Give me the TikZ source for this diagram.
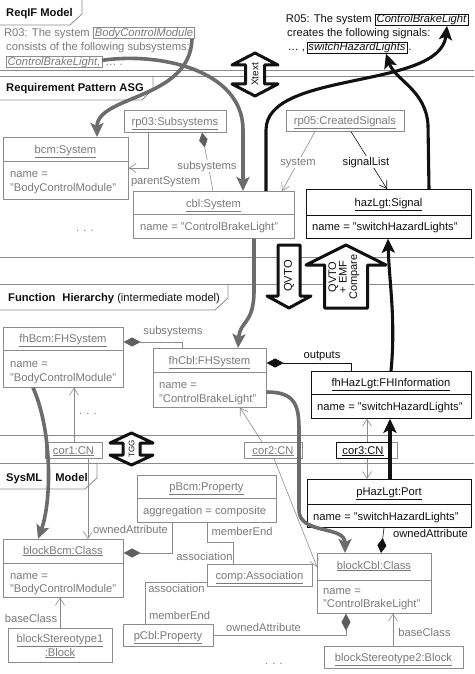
\documentclass[tikz,border=0pt]{standalone}
\usepackage{fontspec}
\setmainfont{Liberation Sans}
\usetikzlibrary{arrows.meta}
\definecolor{gtext}{HTML}{7A7A7A}
\definecolor{gline}{HTML}{8C8C8C}
\definecolor{gthick}{HTML}{6C6C6C}
\definecolor{gdia}{HTML}{5E5E5E}
\definecolor{frm}{HTML}{8A8A8A}
\definecolor{ink}{HTML}{111111}
\newcommand\obox[6]{\node[#2, minimum width={(#5)-(#3)}, minimum height={(#6)-(#4)}] (#1) at (#3,#4) {};}
\newcommand\odiv[3]{\draw[#2] (#1.west |- 0,#3) -- (#1.east |- 0,#3);}
\begin{document}
\begin{tikzpicture}[x=1pt,y=-1pt,
  every node/.style={inner sep=0pt, font=\fontsize{11.2}{14}\selectfont},
  gb/.style={draw=gline, line width=0.6pt, fill=white, anchor=north west},
  bb/.style={draw=ink, line width=0.7pt, fill=white, anchor=north west},
  gt/.style={text=gtext},
  bt/.style={text=ink},
  lbl/.style={fill=white, inner sep=0.8pt, anchor=base},
  gthin/.style={draw=gline, line width=0.6pt},
  bthin/.style={draw=ink, line width=0.6pt},
  nav/.style={-{Straight Barb[length=7pt,width=9pt]}},
  gcmp/.style={{Diamond[length=17pt,width=9pt,color=gdia,fill=gdia]}-},
  gcmps/.style={{Diamond[length=15pt,width=8.5pt,color=gdia,fill=gdia]}-},
  bcmp/.style={{Diamond[length=14pt,width=8pt,fill=ink]}-},
  thickg/.style={draw=gthick, line width=3.6pt, -{Stealth[length=14pt,width=13pt,inset=3pt]}},
  thickb/.style={draw=ink, line width=3.1pt, -{Stealth[length=14pt,width=13pt,inset=3pt]}},
  blk/.style={draw=ink, line width=3pt, fill=white, line join=round},
  frame/.style={draw=frm, line width=0.8pt},
  wbox/.style={line width=0.6pt, inner xsep=1.5pt, inner ysep=0.5pt, text height=8pt, text depth=2pt, font=\fontsize{11.2}{14}\selectfont\itshape}
]
\useasboundingbox (0,0) rectangle (474,674);
% frames
\foreach \yy in {70,76,257,284,435,463} \draw[frame] (0,\yy) -- (474,\yy);
\draw[frame] (0,25) -- (70,25) -- (82,14) -- (82,0);
\draw[frame] (0,100) -- (142,100) -- (153,89) -- (153,76);
\draw[frame] (0,310) -- (215,310) -- (228,298) -- (228,284);
\draw[frame] (0,489) -- (85,489) -- (97,478) -- (97,463);
\node[bt, anchor=base west] (tabR) at (6,17) {\textbf{ReqIF Model}};
\node[bt, anchor=base west] (tabA) at (6,92) {\textbf{Requirement Pattern ASG}};
\node[bt, anchor=base west] (tabF) at (8,301) {\textbf{Function}\hspace{7pt}\textbf{Hierarchy} (intermediate model)};
\node[bt, anchor=base west] (tabS) at (6,481) {\textbf{SysML}\hspace{13pt}\textbf{Model}};
% ReqIF texts
\node[wbox, draw=gline, text=gtext] (wBCM) at (144,33.3) {BodyControlModule};
\node[gt, anchor=base east] (r03a) at ([xshift=-3pt]wBCM.base west) {R03: The system};
\node[gt, anchor=base west] (r03b) at (6,50.8) {consists of the following subsystems:};
\node[wbox, draw=gline, text=gtext] (wCBL) at (54,62.3) {ControlBrakeLight,};
\node[gt, anchor=base west] (r03c) at ([xshift=3pt]wCBL.base east) {… .};
\node[wbox, draw=ink, text=ink] (wCBL2) at (421.5,20) {ControlBrakeLight};
\node[bt, anchor=base east] (r05a) at ([xshift=-3pt]wCBL2.base west) {R05: The system};
\node[bt, anchor=base west] (r05b) at (287,37) {creates the following signals:};
\node[wbox, draw=ink, text=ink] (wSHL) at (357,48) {switchHazardLights};
\node[bt, anchor=base east] (r05c) at ([xshift=-1.5pt]wSHL.base west) {… ,};
\node[bt, anchor=base west] (r05d) at ([xshift=1pt]wSHL.base east) {.};
% ASG boxes
\obox{rp03}{gb}{124}{110}{226}{132}
\node[gt, anchor=base] (trp03) at (175,125) {\underline{rp03:Subsystems}};
\obox{rp05}{gb}{286}{110}{404}{131}
\node[gt, anchor=base] (trp05) at (345,124.5) {\underline{rp05:CreatedSignals}};
\obox{bcm}{gb}{3}{137}{128}{199}
\odiv{bcm}{gthin}{161}
\node[gt, anchor=base] (tbcm) at (65.5,153) {\underline{bcm:System}};
\node[gt, anchor=base west] (abcm1) at (10,177) {name =};
\node[gt, anchor=base west] (abcm2) at (10,191) {"BodyControlModule"};
\obox{cbl}{gb}{133}{191}{294}{238}
\odiv{cbl}{gthin}{214}
\node[gt, anchor=base] (tcbl) at (213.5,207) {\underline{cbl:System}};
\node[gt, anchor=base west] (acbl) at (140,230) {name = "ControlBrakeLight"};
\obox{hazLgt}{bb}{306}{189}{471}{238}
\odiv{hazLgt}{bthin}{215}
\node[bt, anchor=base] (thaz) at (388.5,206.5) {\underline{hazLgt:Signal}};
\node[bt, anchor=base west] (ahaz) at (312,230.5) {name = "switchHazardLights"};
\node[gt, anchor=base] (dots1) at (85,231) {. . .};
% ASG connectors
\draw[gthin, nav] (rp03.south -| 148,0) |- (bcm.east |- 0,168);
\node[gt, lbl, anchor=base west] (lps) at (130,184) {parentSystem};
\draw[gthin, gcmps] (rp03.south -| 202,0) -- (cbl.north -| 213,0);
\node[gt, lbl] (lss1) at (207,169) {subsystems};
\draw[gthin, nav] (rp05.south -| 315,0) -- (cbl.north -| 282,0);
\node[gt, lbl] (lsys) at (298,165) {system};
\draw[bthin, bcmp, -{Straight Barb[length=7pt,width=9pt]}] (rp05.south -| 351,0) -- (hazLgt.north -| 387,0);
\node[bt, lbl] (lsig) at (366,165) {signalList};
% FH boxes
\obox{fhBcm}{gb}{3}{327}{123}{387}
\odiv{fhBcm}{gthin}{350}
\node[gt, anchor=base] (tfhb) at (63,342.5) {\underline{fhBcm:FHSystem}};
\node[gt, anchor=base west] (afhb1) at (10,367) {name =};
\node[gt, anchor=base west] (afhb2) at (10,381) {"BodyControlModule"};
\obox{fhCbl}{gb}{153}{348}{266}{407}
\odiv{fhCbl}{gthin}{372}
\node[gt, anchor=base] (tfhc) at (209.5,364) {\underline{fhCbl:FHSystem}};
\node[gt, anchor=base west] (afhc1) at (159,388) {name =};
\node[gt, anchor=base west] (afhc2) at (159,402) {"ControlBrakeLight"};
\obox{fhHaz}{bb}{311}{371}{471}{418}
\odiv{fhHaz}{bthin}{394}
\node[bt, anchor=base] (tfhh) at (391,386.5) {\underline{fhHazLgt:FHInformation}};
\node[bt, anchor=base west] (afhh) at (317,410) {name = "switchHazardLights"};
\node[gt, anchor=base] (dots2) at (88,414) {. . .};
\draw[gthin, gcmp] (fhBcm.east |- 0,342) -| (fhCbl.north -| 182,0);
\node[gt, lbl] (lss2) at (173,334) {subsystems};
\draw[bthin, {Diamond[length=17pt,width=9pt,fill=ink]}-] (fhCbl.east |- 0,363) -| (fhHaz.north -| 351,0);
\node[bt, lbl] (lout) at (322,358) {outputs};
% correspondence nodes
\obox{cor1}{gb}{45}{442}{102}{458}
\node[gt, anchor=base] (tcor1) at (73.5,454) {\underline{cor1:CN}};
\obox{cor2}{gb}{244}{442}{302}{458}
\node[gt, anchor=base] (tcor2) at (273,454) {\underline{cor2:CN}};
\obox{cor3g}{gb}{336}{442}{397}{458}
\obox{cor3}{bb}{336}{442}{388}{458}
\node[bt, anchor=base] (tcor3) at (363,454) {\underline{cor3:CN}};
\draw[gthin, nav] (cor1.north -| 74,0) -- (fhBcm.south -| 74,0);
\draw[gthin, nav] (cor2.north -| 262,0) -- (fhCbl.south -| 240,0);
\draw[gthin, nav] (cor3.north -| 367,0) -- (fhHaz.south -| 367,0);
% SysML boxes
\obox{pBcm}{gb}{137}{475}{276}{522}
\odiv{pBcm}{gthin}{498}
\node[gt, anchor=base] (tpb) at (206.5,490) {\underline{pBcm:Property}};
\node[gt, anchor=base west] (apb) at (143,514) {aggregation = composite};
\obox{blockBcm}{gb}{3}{539}{123}{597}
\odiv{blockBcm}{gthin}{563}
\node[gt, anchor=base] (tbb) at (63,554) {\underline{blockBcm:Class}};
\node[gt, anchor=base west] (abb1) at (10,579) {name =};
\node[gt, anchor=base west] (abb2) at (10,592) {"BodyControlModule"};
\obox{compA}{gb}{207}{564}{312}{586}
\node[gt, anchor=base] (tca) at (259.5,579) {\underline{comp:Association}};
\obox{pCbl}{gb}{123}{624}{213}{646}
\node[gt, anchor=base] (tpc) at (168,639) {\underline{pCbl:Property}};
\obox{bst1}{gb}{8}{628}{112}{662}
\node[gt, anchor=base] (tbs1a) at (60,642) {\underline{blockStereotype1}};
\node[gt, anchor=base] (tbs1b) at (60,656) {\underline{:Block}};
\obox{blockCbl}{gb}{317}{553}{431}{613}
\odiv{blockCbl}{gthin}{580}
\node[gt, anchor=base] (tbc) at (374,569) {\underline{blockCbl:Class}};
\node[gt, anchor=base west] (abc1) at (323,594) {name =};
\node[gt, anchor=base west] (abc2) at (323,607) {"ControlBrakeLight"};
\obox{pHaz}{bb}{307}{479}{471}{527}
\odiv{pHaz}{bthin}{504}
\node[bt, anchor=base] (tph) at (389,495.5) {\underline{pHazLgt:Port}};
\node[bt, anchor=base west] (aph) at (313,520) {name = "switchHazardLights"};
\obox{bst2}{gb}{324}{646}{463}{668}
\node[gt, anchor=base] (tbs2) at (393.5,661) {\underline{blockStereotype2:Block}};
\node[gt, anchor=base] (dots3) at (274,664) {. . .};
% SysML connectors
\draw[gthin, nav] (cor1.south -| 88,0) -- (blockBcm.north -| 88,0);
\draw[gthin, nav] (cor2.south -| 274,0) -- (blockCbl.west |- 0,567);
\draw[gthin, nav] (cor3.south -| 367,0) -- (pHaz.north -| 367,0);
\draw[gthin, gcmp] (blockBcm.east |- 0,553) -| (pBcm.south -| 172,0);
\node[gt, lbl] (loa1) at (130.5,533) {ownedAttribute};
\draw[gthin] (pBcm.south -| 207,0) -- ++(0,20) -| (compA.north -| 233,0);
\node[gt, lbl] (lme1) at (242,535) {memberEnd};
\node[gt, lbl] (las1) at (204.5,560) {association};
\draw[gthin] (pCbl.north -| 145,0) |- (compA.west |- 0,582);
\node[gt, lbl] (las2) at (176.5,592) {association};
\node[gt, lbl] (lme2) at (179.5,619) {memberEnd};
\draw[gthin, -{Diamond[length=17pt,width=9pt,color=gdia,fill=gdia]}] (pCbl.east |- 0,635) -| (blockCbl.south -| 346,0);
\node[gt, lbl] (loa2) at (263.5,631) {ownedAttribute};
\draw[gthin, nav] (bst1.north -| 60,0) -- (blockBcm.south -| 60,0);
\node[gt, lbl] (lbc1) at (31,622) {baseClass};
\draw[gthin, nav] (bst2.north -| 393,0) -- (blockCbl.south -| 393,0);
\node[gt, lbl] (lbc2) at (424.5,636) {baseClass};
\draw[bthin, {Diamond[length=15pt,width=9pt,fill=ink]}-] (blockCbl.north -| 381,0) -- (pHaz.south -| 384,0);
\node[bt, lbl] (loa3) at (430.5,537) {ownedAttribute};
% thick trace arrows
\draw[thickg] (wBCM.south -| 192,0) .. controls (190,100) and (97,95) .. (bcm.north -| 97,0);
\draw[thickg] ([yshift=2pt]wCBL.east) .. controls (160,52) and (243,70) .. (243,130) -- (cbl.north -| 243,0);
\draw[thickb] (cbl.north -| 266,0) -- (266,130) .. controls (266,70) and (440,90) .. (wCBL2.south -| 447,0);
\draw[thickb] (hazLgt.north -| 429,0) -- (428,125) .. controls (426,90) and (395,80) .. (wSHL.south -| 386,0);
\draw[thickg] (cbl.south -| 254,0) -- (254,290) .. controls (254,325) and (240,320) .. (fhCbl.north -| 238,0);
\draw[thickb] (fhHaz.north -| 391,0) .. controls (396,320) and (389,280) .. (hazLgt.south -| 388,0);
\draw[thickg] (fhBcm.south -| 33,0) .. controls (52,430) and (52,500) .. (blockBcm.north -| 38,0);
\draw[thickg] (fhCbl.east |- 0,392) .. controls (295,392) and (299,405) .. (299,430) -- (299,510) .. controls (299,535) and (345,525) .. (blockCbl.north -| 345,0);
\draw[thickb] (pHaz.north -| 390,0) -- (fhHaz.south -| 390,0);
% block arrows
\draw[blk] (255,53) -- (278,65) -- (264.5,65) -- (264.5,84) -- (278,84) -- (255,96) -- (232,84) -- (245.5,84) -- (245.5,65) -- (232,65) -- cycle;
\node[bt, rotate=90, font=\fontsize{10}{12}\selectfont] (lX) at (255,74.5) {Xtext};
\draw[blk] (131.5,433) -- (153,443) -- (140,443) -- (140,455) -- (153,455) -- (131.5,465) -- (110,455) -- (123,455) -- (123,443) -- (110,443) -- cycle;
\node[bt, rotate=90, font=\fontsize{8}{10}\selectfont] (lT) at (131.5,449) {TGG};
\draw[blk] (278,245) -- (300,245) -- (300,296) -- (311,296) -- (289,308) -- (267,296) -- (278,296) -- cycle;
\node[bt, rotate=90] (lQ) at (289,276) {QVTO};
\draw[blk] (324.5,308) -- (367.5,308) -- (367.5,265) -- (386,265) -- (346,245) -- (306,265) -- (324.5,265) -- cycle;
\node[bt, rotate=90, align=center, font=\fontsize{11}{10.5}\selectfont] (lQE) at (344,277) {QVTO\\+ EMF\\Compare};
\end{tikzpicture}
\end{document}
